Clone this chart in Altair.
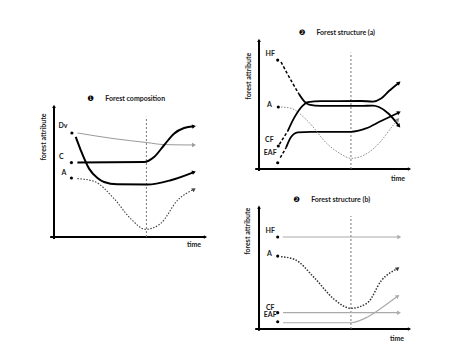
import math
import altair as alt
import pandas as pd

# ---------------- Panel 1: Forest composition ----------------
p1_dv_grey_x = [1.53, 3.92, 6.10, 7.19, 9.15]
p1_dv_grey_y = [7.88, 7.45, 7.15, 7.00, 6.97]
p1_dv_black_x = [1.42, 1.75, 2.29, 2.84, 3.27, 4.14, 6.10, 7.63, 9.15]
p1_dv_black_y = [7.58, 6.57, 5.18, 4.47, 4.17, 3.99, 3.97, 4.30, 4.92]
p1_c_x = [1.53, 5.88, 6.54, 7.19, 7.84, 8.50, 9.15]
p1_c_y = [5.64, 5.68, 6.06, 6.95, 7.83, 8.26, 8.39]
p1_a_x = [1.53, 2.61, 3.92, 5.01, 5.99, 6.97, 8.07, 9.15]
p1_a_y = [4.42, 4.22, 2.91, 1.39, 0.58, 1.02, 2.78, 3.61]
p1_labels = ["Dv", "C", "A"]
p1_label_x = [0.59, 0.48, 0.65]
p1_label_y = [8.41, 6.06, 4.88]
p1_dot_x = [1.17, 1.14, 1.14]
p1_dot_y = [7.88, 5.64, 4.47]
p1_disturbance = 6.04
p1_title = "Forest composition"

# ---------------- Panel 2: Forest structure (a) ----------------
p2_hf_dash_x = [1.45, 1.84, 2.24, 2.63]
p2_hf_dash_y = [8.23, 7.38, 6.54, 5.77]
p2_hf_x = [2.63, 2.96, 3.29, 4.08, 6.71, 7.50, 7.89, 8.55, 9.21]
p2_hf_y = [5.77, 5.23, 4.96, 4.86, 4.85, 4.88, 4.77, 4.23, 3.31]
p2_cf_dash_x = [1.34, 1.89]
p2_cf_dash_y = [1.90, 2.92]
p2_cf_x = [1.89, 2.32, 2.88, 3.22, 4.08, 6.71, 7.50, 8.03, 8.55, 9.21]
p2_cf_y = [2.92, 3.95, 4.88, 5.15, 5.22, 5.23, 5.19, 5.42, 6.00, 6.64]
p2_eaf_dash_x = [1.40, 1.78]
p2_eaf_dash_y = [0.87, 1.64]
p2_eaf_x = [1.78, 2.11, 2.55, 3.42, 6.05, 7.04, 8.03, 9.21]
p2_eaf_y = [1.64, 2.46, 2.81, 2.86, 2.86, 3.12, 3.69, 4.35]
p2_a_x = [1.45, 2.11, 3.20, 4.52, 5.39, 6.05, 7.15, 8.03, 8.68, 9.14]
p2_a_y = [4.77, 4.67, 3.69, 1.90, 1.15, 0.82, 1.23, 2.15, 3.15, 3.81]
p2_labels = ["HF", "A", "CF", "EAF"]
p2_label_x = [0.74, 0.68, 0.68, 0.74]
p2_label_y = [8.82, 4.92, 2.21, 1.25]
p2_dot_x = [1.23, 1.27, 1.27, 1.23]
p2_dot_y = [8.38, 4.77, 1.77, 0.48]
p2_disturbance = 6.05
p2_title = "Forest structure (a)"

# ---------------- Panel 3: Forest structure (b) ----------------
p3_hf_x = [1.56, 9.23]
p3_hf_y = [7.48, 7.48]
p3_a_x = [1.45, 2.32, 3.64, 4.95, 6.05, 7.15, 8.03, 9.13]
p3_a_y = [5.88, 5.67, 4.17, 2.41, 1.68, 2.14, 3.90, 4.93]
p3_cf_x = [1.58, 9.21]
p3_cf_y = [1.33, 1.33]
p3_eaf_x = [1.58, 6.05, 7.15, 8.24, 9.13]
p3_eaf_y = [0.51, 0.51, 0.98, 1.87, 2.68]
p3_labels = ["HF", "A", "CF", "EAF"]
p3_label_x = [0.74, 0.68, 0.74, 0.74]
p3_label_y = [7.97, 6.12, 1.68, 1.14]
p3_dot_x = [1.23, 1.23, 1.23, 1.23]
p3_dot_y = [7.48, 5.93, 1.33, 0.59]
p3_disturbance = 6.05
p3_title = "Forest structure (b)"

FONT = "Lato, DejaVu Sans, sans-serif"
TXT = "#1a1a1a"


def make_panel(width, height, ymax, lines, labels, lab_x, lab_y, dot_x, dot_y,
               disturbance, dist_top, number, title, title_x, yt_x, yt_top,
               time_x, time_y):
    sx = width / 10.0
    sy = height / ymax
    X = alt.X("x:Q", scale=alt.Scale(domain=[0, 10], nice=False, zero=False), axis=None)
    Y = alt.Y("y:Q", scale=alt.Scale(domain=[0, ymax], nice=False, zero=False), axis=None)
    layers = []

    # axes
    layers.append(alt.Chart(pd.DataFrame({"x": [0], "y": [-0.15], "y2": [9.9]}))
                  .mark_rule(color="black", strokeWidth=2)
                  .encode(x=X, y=Y, y2="y2:Q"))
    layers.append(alt.Chart(pd.DataFrame({"x": [-0.25], "x2": [9.9], "y": [0]}))
                  .mark_rule(color="black", strokeWidth=2)
                  .encode(x=X, x2="x2:Q", y=Y))

    # disturbance
    layers.append(alt.Chart(pd.DataFrame({"x": [disturbance], "y": [0], "y2": [dist_top]}))
                  .mark_rule(color="#777777", strokeWidth=1, strokeDash=[2, 2])
                  .encode(x=X, y=Y, y2="y2:Q"))

    arrows = [
        {"x": 0, "y": 9.9, "ang": 270, "c": "black", "s": 14},
        {"x": 9.9, "y": 0, "ang": 0, "c": "black", "s": 14},
    ]
    for xs, ys, color, w, dash, arrow in lines:
        df = pd.DataFrame({"x": xs, "y": ys, "i": list(range(len(xs)))})
        kw = dict(color=color, strokeWidth=w, interpolate="monotone")
        if dash:
            kw["strokeDash"] = dash
        layers.append(alt.Chart(df).mark_line(**kw).encode(x=X, y=Y, order="i:O"))
        if arrow:
            dx = (xs[-1] - xs[-2]) * sx
            dy = -(ys[-1] - ys[-2]) * sy
            ang = math.degrees(math.atan2(dy, dx)) % 360
            arrows.append({"x": xs[-1], "y": ys[-1], "ang": ang, "c": color, "s": 20})

    layers.append(alt.Chart(pd.DataFrame(arrows))
                  .mark_point(shape="triangle-right", filled=True, opacity=1, strokeWidth=0)
                  .encode(x=X, y=Y, angle=alt.Angle("ang:Q", scale=None),
                          color=alt.Color("c:N", scale=None),
                          size=alt.Size("s:Q", scale=None)))

    # dots and labels
    layers.append(alt.Chart(pd.DataFrame({"x": dot_x, "y": dot_y}))
                  .mark_circle(color="black", size=10, opacity=1)
                  .encode(x=X, y=Y))
    layers.append(alt.Chart(pd.DataFrame({"x": lab_x, "y": lab_y, "t": labels}))
                  .mark_text(font=FONT, fontSize=7, fontWeight="bold", color=TXT,
                             align="center", baseline="middle")
                  .encode(x=X, y=Y, text="t:N"))

    # axis titles
    layers.append(alt.Chart(pd.DataFrame({"x": [yt_x], "y": [yt_top], "t": ["forest attribute"]}))
                  .mark_text(font=FONT, fontSize=7, fontWeight="bold", color=TXT, angle=270,
                             align="right", baseline="middle")
                  .encode(x=X, y=Y, text="t:N"))
    layers.append(alt.Chart(pd.DataFrame({"x": [time_x], "y": [time_y], "t": ["time"]}))
                  .mark_text(font=FONT, fontSize=7, fontWeight="bold", color=TXT,
                             align="center", baseline="middle")
                  .encode(x=X, y=Y, text="t:N"))

    # panel title
    layers.append(alt.Chart(pd.DataFrame({"x": [title_x], "y": [10.48], "t": [number]}))
                  .mark_text(font="DejaVu Sans", fontSize=7.5, color="black",
                             align="center", baseline="middle")
                  .encode(x=X, y=Y, text="t:N"))
    layers.append(alt.Chart(pd.DataFrame({"x": [title_x + 0.95], "y": [10.48], "t": [title]}))
                  .mark_text(font=FONT, fontSize=7, fontWeight="bold", color=TXT,
                             align="left", baseline="middle")
                  .encode(x=X, y=Y, text="t:N"))

    return alt.layer(*layers).properties(width=width, height=height)


BLACK = "black"
GREY1 = "#9a9a9a"
GREY3 = "#aaaaaa"

panel1 = make_panel(
    153, 198, 15,
    [
        (p1_dv_grey_x, p1_dv_grey_y, GREY1, 1, None, True),
        (p1_dv_black_x, p1_dv_black_y, BLACK, 2, None, True),
        (p1_c_x, p1_c_y, BLACK, 2, None, True),
        (p1_a_x, p1_a_y, "#444444", 1.1, [1.5, 1.5], True),
    ],
    p1_labels, p1_label_x, p1_label_y, p1_dot_x, p1_dot_y,
    p1_disturbance, 9.1, "\u2776", p1_title, 2.4, -0.65, 9.36, 9.15, -0.63,
)

panel2 = make_panel(
    152, 130, 10,
    [
        (p2_hf_dash_x, p2_hf_dash_y, BLACK, 1.5, [3, 2], False),
        (p2_hf_x, p2_hf_y, BLACK, 1.8, None, True),
        (p2_cf_dash_x, p2_cf_dash_y, BLACK, 1.5, [3, 2], False),
        (p2_cf_x, p2_cf_y, BLACK, 1.8, None, True),
        (p2_eaf_dash_x, p2_eaf_dash_y, BLACK, 1.5, [3, 2], False),
        (p2_eaf_x, p2_eaf_y, BLACK, 1.8, None, True),
        (p2_a_x, p2_a_y, "#888888", 1, [1.5, 1.5], True),
    ],
    p2_labels, p2_label_x, p2_label_y, p2_dot_x, p2_dot_y,
    p2_disturbance, 8.95, "\u2777", p2_title, 2.83, -0.64, 8.95, 9.14, -0.79,
)

panel3 = make_panel(
    152, 123, 10,
    [
        (p3_hf_x, p3_hf_y, GREY3, 1.2, None, True),
        (p3_a_x, p3_a_y, "#333333", 1.5, [1.5, 1.5], True),
        (p3_cf_x, p3_cf_y, GREY3, 1.2, None, True),
        (p3_eaf_x, p3_eaf_y, GREY3, 1.2, None, True),
    ],
    p3_labels, p3_label_x, p3_label_y, p3_dot_x, p3_dot_y,
    p3_disturbance, 9.19, "\u2777", p3_title, 2.48, -0.74, 9.86, 9.08, -0.79,
)

right = alt.vconcat(panel2, panel3, spacing=37, bounds="flush")
chart = alt.hconcat(panel1, right, spacing=52, bounds="flush").properties(
    padding={"left": 40, "top": 28, "right": 5, "bottom": 5},
    background="white",
).configure_view(stroke=None)

chart.save("out.html", embed_options={"renderer": "svg", "actions": False})
